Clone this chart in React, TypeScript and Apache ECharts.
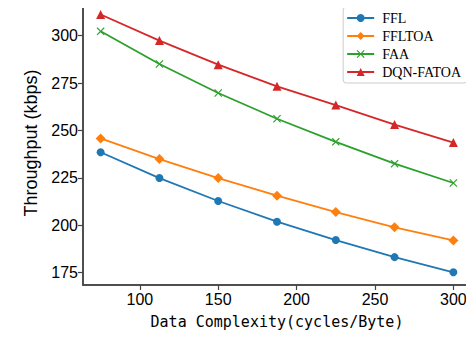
import React, { useEffect, useRef } from "react";
import * as echarts from "echarts";

const xValues = [75, 112.5, 150, 187.5, 225, 262.5, 300];
const xTicks = [100, 150, 200, 250, 300];
const yTicks = [175, 200, 225, 250, 275, 300];

const seriesNames = ["FFL", "FFLTOA", "FAA", "DQN-FATOA"];
const ffl = [238.5, 224.9, 212.8, 201.9, 192.2, 183.2, 175.2];
const ffltoa = [245.8, 234.9, 224.9, 215.6, 207.0, 198.9, 192.0];
const faa = [302.3, 285.1, 269.8, 256.2, 244.0, 232.5, 222.3];
const dqn = [311.2, 297.4, 284.7, 273.3, 263.4, 253.1, 243.6];

const colors = ["#1f77b4", "#ff7f0e", "#2ca02c", "#d62728"];
const symbols = [
  "circle",
  "diamond",
  "path://M1,0 L5,4 L9,0 L10,1 L6,5 L10,9 L9,10 L5,6 L1,10 L0,9 L4,5 L0,1 Z",
  "triangle",
];
const symbolSizes = [8, 10, 8, 9];

export default function App() {
  const ref = useRef<HTMLDivElement>(null);
  useEffect(() => {
    if (!ref.current) return;
    const chart = echarts.init(ref.current, null, { renderer: "svg" });
    const all = [ffl, ffltoa, faa, dqn];
    chart.setOption({
      animation: false,
      backgroundColor: "#fff",
      grid: {
        left: 83,
        right: 3,
        top: 1,
        bottom: 73,
        show: true,
        borderColor: "#444",
        borderWidth: 1.5,
        containLabel: false,
      },
      legend: {
        orient: "vertical",
        right: 7,
        top: 7,
        padding: [4, 6, 4, 3],
        itemWidth: 27,
        itemHeight: 10,
        itemGap: 4,
        backgroundColor: "#fff",
        borderColor: "#ccc",
        borderWidth: 1,
        borderRadius: 3,
        textStyle: {
          fontFamily: "Liberation Serif",
          fontSize: 14,
          color: "#000",
          padding: [0, 0, 0, 3],
        },
        data: seriesNames,
      },
      xAxis: {
        type: "value",
        min: 63.75,
        max: 311.25,
        name: "Data Complexity(cycles/Byte)",
        nameLocation: "middle",
        nameGap: 29,
        nameTextStyle: { fontFamily: "DejaVu Sans Mono", fontSize: 15, color: "#000" },
        axisLine: { show: true, lineStyle: { color: "#444", width: 1.5 } },
        axisTick: { show: true, length: 5, customValues: xTicks, lineStyle: { color: "#444", width: 1.2 } },
        axisLabel: {
          customValues: xTicks,
          fontFamily: "Liberation Sans",
          fontSize: 16,
          color: "#000",
          margin: 6,
        },
        splitLine: { show: false },
      },
      yAxis: {
        type: "value",
        min: 168.5,
        max: 318.3,
        name: "Throughput (kbps)",
        nameLocation: "middle",
        nameGap: 36,
        nameTextStyle: { fontFamily: "Liberation Sans", fontSize: 18, color: "#000" },
        axisLine: { show: true, lineStyle: { color: "#444", width: 1.5 } },
        axisTick: { show: true, length: 5, customValues: yTicks, lineStyle: { color: "#444", width: 1.2 } },
        axisLabel: {
          customValues: yTicks,
          fontFamily: "Liberation Sans",
          fontSize: 16,
          color: "#000",
          margin: 5,
        },
        splitLine: { show: false },
      },
      series: seriesNames.map((name, i) => ({
        name,
        type: "line",
        data: xValues.map((x, j) => [x, all[i][j]]),
        symbol: symbols[i],
        symbolSize: symbolSizes[i],
        showAllSymbol: true,
        lineStyle: { color: colors[i], width: 1.8 },
        itemStyle: { color: colors[i], borderColor: colors[i], borderWidth: 0 },
        emphasis: { disabled: true },
        z: 2 + i,
      })),
    });
    return () => chart.dispose();
  }, []);
  return <div ref={ref} style={{ width: 474, height: 358, marginLeft: -8, marginTop: -8 }} />;
}
